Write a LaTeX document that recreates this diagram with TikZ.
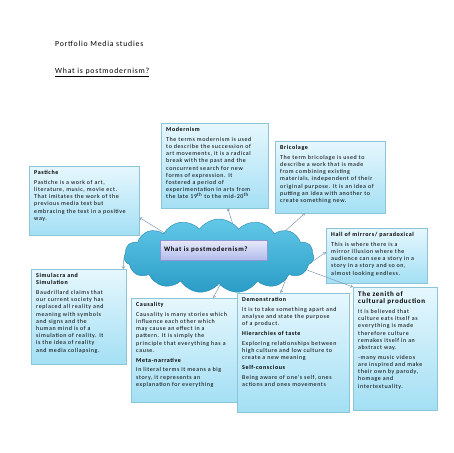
\documentclass[tikz,border=0pt]{standalone}
\usepackage{fontspec}
\setmainfont{Carlito}[LetterSpace=10]
\usetikzlibrary{positioning,shapes.symbols,shadows,arrows.meta}

\definecolor{boxtop}{HTML}{E6F7FD}
\definecolor{boxbot}{HTML}{A4DFF4}
\definecolor{boxline}{HTML}{8CC4D8}
\definecolor{cloudtop}{HTML}{62C8E8}
\definecolor{cloudbot}{HTML}{2A9CC6}
\definecolor{cloudline}{HTML}{2686AE}
\definecolor{asktop}{HTML}{E8EAFB}
\definecolor{askbot}{HTML}{B2BCEB}
\definecolor{askline}{HTML}{8C96D2}
\definecolor{linkcol}{HTML}{7E9BB6}

\tikzset{
  infobox/.style={draw=boxline, top color=boxtop, bottom color=boxbot, anchor=north west,
    inner sep=0pt, drop shadow={opacity=0.3, shadow xshift=1.2pt, shadow yshift=-1.2pt}},
  boxtext/.style={inner sep=0pt, align=left, font=\fontsize{6}{7.2}\selectfont},
  link/.style={draw=linkcol, line width=0.5pt, -{Straight Barb[length=2.2pt,width=3pt]}}
}
\newcommand{\hd}[1]{\textbf{#1}\\[2.6pt]}
\newcommand{\bighd}[1]{{\fontsize{7}{8.4}\selectfont\bfseries #1}}

\begin{document}
\begin{tikzpicture}[x=1pt, y=-1pt]
\useasboundingbox (0,0) rectangle (453,453);

\node[anchor=west, inner sep=0pt, font=\fontsize{7.8}{9}\selectfont] (page) at (55,44) {Portfolio Media studies};
\node[anchor=west, inner sep=0pt, font=\fontsize{7.8}{9}\selectfont] (quest) at (55,72) {\underline{What is postmodernism?}};

% the boxes
\node[infobox, minimum width=107pt, minimum height=85pt] (modern) at (161,123) {};
\node[infobox, minimum width=110pt, minimum height=72pt] (bric) at (275,141) {};
\node[infobox, minimum width=110pt, minimum height=69pt] (pastiche) at (29,166) {};
\node[infobox, minimum width=101pt, minimum height=55pt] (hall) at (326,228) {};
\node[infobox, minimum width=95pt, minimum height=95pt] (simul) at (31,269) {};
\node[infobox, minimum width=106pt, minimum height=104pt] (causal) at (131,298) {};
\node[infobox, minimum width=112pt, minimum height=119pt] (demo) at (237,293) {};
\node[infobox, minimum width=84pt, minimum height=123pt] (zenith) at (353,287) {};

\node[boxtext, below right=4pt and 5pt of modern.north west] (moderntext) {\hd{Modernism}
The terms modernism is used\\ to describe the succession of\\ art movements, it is a radical\\
break with the past and the\\ concurrent search for new\\ forms of expression. It\\
fostered a period of\\ experimentation in arts from\\ the late 19\textsuperscript{th} to the mid-20\textsuperscript{th}};
\node[boxtext, below right=4pt and 5pt of bric.north west] (brictext) {\hd{Bricolage}
The term bricolage is used to\\ describe a work that is made\\ from combining existing\\
materials, independent of their\\ original purpose. It is an idea of\\ putting an idea with another to\\
create something new.};
\node[boxtext, below right=4pt and 5pt of pastiche.north west] (pastichetext) {\hd{Pastiche}
Pastiche is a work of art,\\ literature, music, movie ect.\\ That imitates the work of the\\
previous media text but\\ embracing the text in a positive\\ way.};
\node[boxtext, below right=4pt and 5pt of hall.north west] (halltext) {\hd{Hall of mirrors/ paradoxical}
This is where there is a\\ mirror illusion where the\\ audience can see a story in a\\
story in a story and so on,\\ almost looking endless.};
\node[boxtext, below right=4pt and 5pt of simul.north west] (simultext) {\textbf{Simulacra and}\\ \hd{Simulation}
Baudrillard claims that\\ our current society has\\ replaced all reality and\\
meaning with symbols\\ and signs and the\\ human mind is of a\\ simulation of reality. It\\
is the idea of reality\\ and media collapsing.};
\node[boxtext, below right=4pt and 5pt of causal.north west] (causaltext) {\hd{Causality}
Causality is many stories which\\ influence each other which\\ may cause an effect in a\\
pattern. It is simply the\\ principle that everything has a\\ cause.\\[2.6pt]
\hd{Meta-narrative}
In literal terms it means a big\\ story, it represents an\\ explanation for everything};
\node[boxtext, below right=4pt and 5pt of demo.north west] (demotext) {\hd{Demonstration}
It is to take something apart and\\ analyse and state the purpose\\ of a product.\\[2.6pt]
\hd{Hierarchies of taste}
Exploring relationships between\\ high culture and low culture to\\ create a new meaning\\[2.6pt]
\hd{Self-conscious}
Being aware of one's self, ones\\ actions and ones movements};
\node[boxtext, below right=4pt and 5pt of zenith.north west] (zenithtext) {\bighd{The zenith of}\\ \bighd{cultural production}\\[3pt]
It is believed that\\ culture eats itself as\\ everything is made\\ therefore culture\\
remakes itself in an\\ abstract way.\\[2.6pt]
-many music videos\\ are inspired and make\\ their own by parody,\\ homage and\\ intertextuality.};

% the cloud in the middle
\node[cloud, cloud puffs=15, cloud puff arc=110, aspect=2.5, minimum width=190pt, minimum height=74pt,
  draw=cloudline, top color=cloudtop, bottom color=cloudbot, inner sep=0pt] (cloud) at (219,256) {};
\node[draw=askline, top color=asktop, bottom color=askbot, minimum width=107pt, minimum height=20pt,
  text width=99pt, align=left, inner sep=0pt, font=\fontsize{6.8}{8}\selectfont\bfseries,
  drop shadow={opacity=0.25, shadow xshift=1pt, shadow yshift=-1pt}] (ask) at (213.5,250) {What is postmodernism?};

\draw[link] (cloud.68) -- (modern.287);
\draw[link] (cloud.21) -- (bric.235);
\draw[link] (cloud.157) -- (pastiche.343);
\draw[link] (cloud.181) -- (simul.47);
\draw[link] (cloud.272) -- (causal.61);
\draw[link] (cloud.340) -- (demo.102);
\draw[link] (cloud.357) -- (hall.176);
\draw[link] (cloud.351) -- (zenith.north west);

\end{tikzpicture}
\end{document}
